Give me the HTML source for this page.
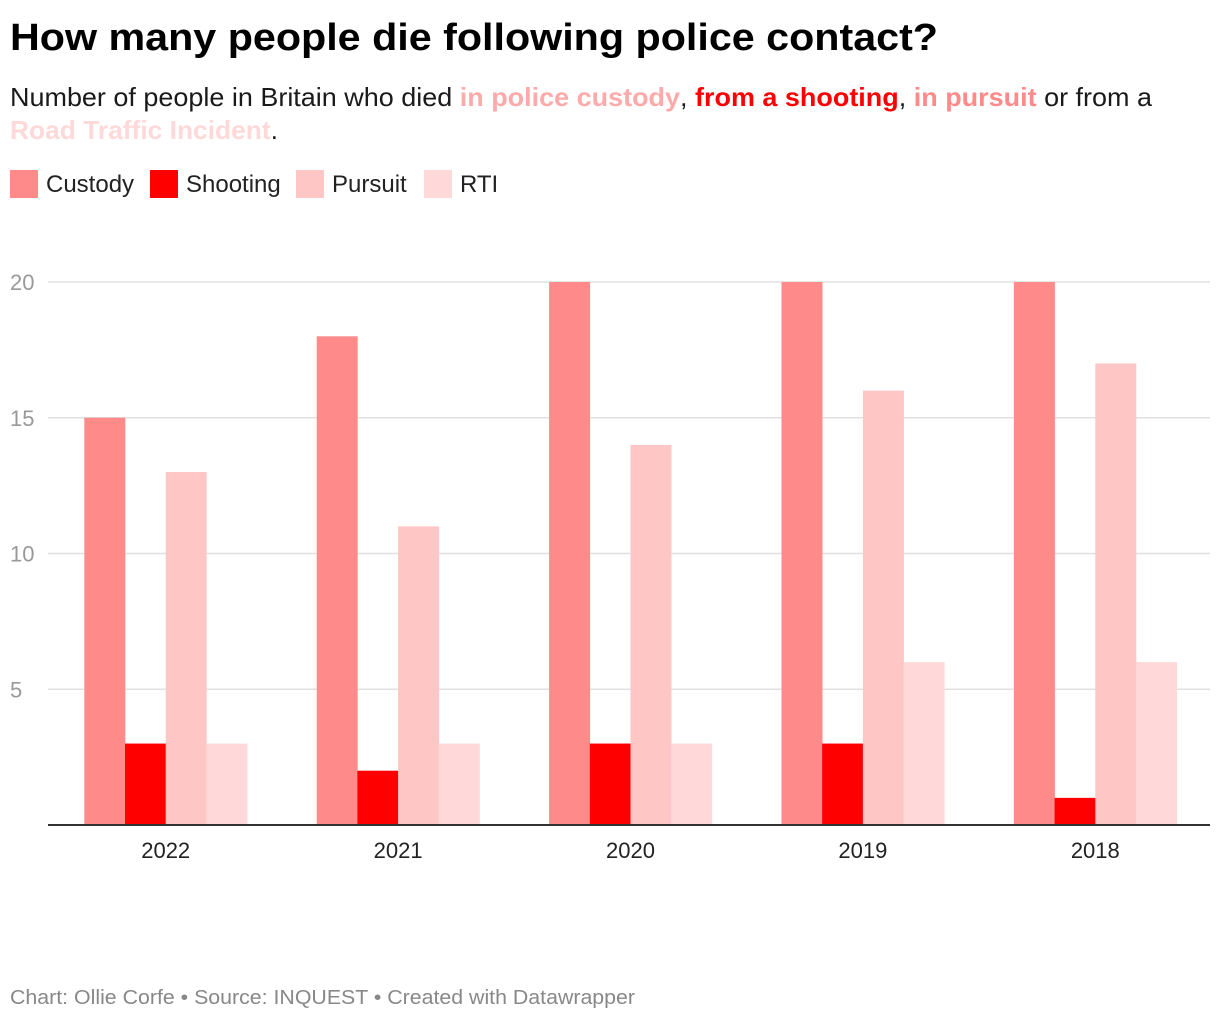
<!DOCTYPE html>
<html><head><meta charset="utf-8"><style>
body{margin:0;background:#fff;width:1220px;height:1020px;overflow:hidden}
svg{display:block;font-family:"Liberation Sans",sans-serif}
</style></head><body>
<svg id="chart" width="1220" height="1020">
<text x="10" y="50" font-size="38" font-weight="bold" fill="#000" textLength="928" lengthAdjust="spacingAndGlyphs">How many people die following police contact?</text>
<text x="10" y="106" font-size="26" fill="#1a1a1a" textLength="1142" lengthAdjust="spacingAndGlyphs">Number of people in Britain who died <tspan font-weight="bold" fill="#ffaaaa">in police custody</tspan>, <tspan font-weight="bold" fill="#ff0000">from a shooting</tspan>, <tspan font-weight="bold" fill="#ff8a8a">in pursuit</tspan> or from a</text>
<text x="10" y="139" font-size="26" fill="#1a1a1a" textLength="268" lengthAdjust="spacingAndGlyphs"><tspan font-weight="bold" fill="#ffd9d9">Road Traffic Incident</tspan>.</text>
<g id="legend"></g>
<g id="grid"></g>
<g id="bars"></g>
<g id="xaxis"></g>
<text x="10" y="1004" font-size="20" fill="#888" textLength="625" lengthAdjust="spacingAndGlyphs">Chart: Ollie Corfe • Source: INQUEST • Created with Datawrapper</text>
</svg>
<script>
const years=["2022","2021","2020","2019","2018"];
const custody=[15,18,20,20,20];
const shooting=[3,2,3,3,1];
const pursuit=[13,11,14,16,17];
const rti=[3,3,3,6,6];
const seriesNames=["Custody","Shooting","Pursuit","RTI"];
const yTicks=[5,10,15,20];
const series=[custody,shooting,pursuit,rti];
const colors=["#ff8a8a","#ff0000","#ffc6c6","#ffd9d9"];
const NS="http://www.w3.org/2000/svg";
function mk(t,a,p){const e=document.createElementNS(NS,t);for(const k in a)e.setAttribute(k,a[k]);p.appendChild(e);return e;}
const y0=825,yPer=27.15,x0=48,x1=1210,gw=232.4,bw=40.7,gStart=49.5;
const y=v=>y0-v*yPer;
const gc=i=>gStart+gw*(i+0.5);
const grid=document.getElementById('grid');
yTicks.forEach(t=>{
 const l=mk('line',{x1:x0,x2:x1,y1:y(t),y2:y(t),stroke:'#e0e0e0','stroke-width':1.5},grid);
 
 
 const tx=mk('text',{x:10,y:y(t)+8,'font-size':22,fill:'#999'},grid);tx.textContent=t;
 
 
});
const bars=document.getElementById('bars');
years.forEach((yr,i)=>{
 series.forEach((s,j)=>{
  const r=mk('rect',{x:gc(i)-2*bw+j*bw,y:y(s[i]),width:bw+0.3,height:s[i]*yPer,fill:colors[j]},bars);
  
  
 });
});
const xa=document.getElementById('xaxis');
const ax=mk('line',{x1:x0,x2:x1,y1:y0,y2:y0,stroke:'#333','stroke-width':2},xa);


years.forEach((yr,i)=>{
 const t=mk('text',{x:gc(i),y:858,'font-size':22,fill:'#222','text-anchor':'middle'},xa);t.textContent=yr;
 
 
});
const lg=document.getElementById('legend');
const lx=[10,150,296,424];
seriesNames.forEach((n,j)=>{
 const r=mk('rect',{x:lx[j],y:170,width:28,height:28,fill:colors[j]},lg);
 
 
 const t=mk('text',{x:lx[j]+36,y:192,'font-size':24,fill:'#222'},lg);t.textContent=n;
 
 
});
</script>
</body></html>
